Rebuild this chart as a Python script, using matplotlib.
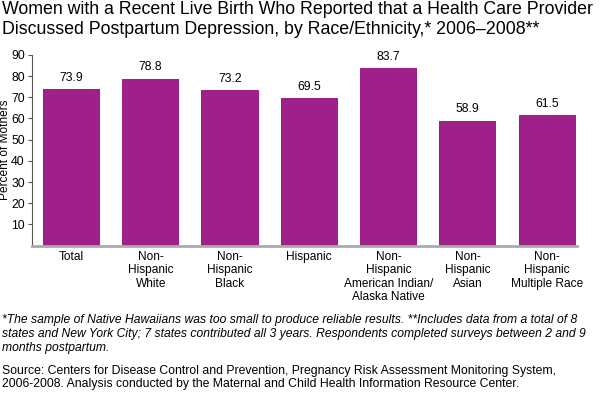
import matplotlib
matplotlib.use("Agg")
import matplotlib.pyplot as plt

plt.rcParams['font.family'] = ['Liberation Sans', 'DejaVu Sans']

categories = ["Total", "Non-\nHispanic\nWhite", "Non-\nHispanic\nBlack", "Hispanic",
              "Non-\nHispanic\nAmerican Indian/\nAlaska Native", "Non-\nHispanic\nAsian",
              "Non-\nHispanic\nMultiple Race"]
values = [73.9, 78.8, 73.2, 69.5, 83.7, 58.9, 61.5]
yticks = [10, 20, 30, 40, 50, 60, 70, 80, 90]

title = ("Women with a Recent Live Birth Who Reported that a Health Care Provider\n"
         "Discussed Postpartum Depression, by Race/Ethnicity,* 2006\u20132008**")
footnote = ("*The sample of Native Hawaiians was too small to produce reliable results. **Includes data from a total of 8\n"
            "states and New York City; 7 states contributed all 3 years. Respondents completed surveys between 2 and 9\n"
            "months postpartum.")
source = ("Source: Centers for Disease Control and Prevention, Pregnancy Risk Assessment Monitoring System,\n"
          "2006-2008. Analysis conducted by the Maternal and Child Health Information Resource Center.")

fig = plt.figure(figsize=(6, 3.99), dpi=100)
ax = fig.add_axes([0.053, 0.3845, 0.909, 0.478])

x = range(len(values))
ax.bar(x, values, width=0.72, color="#A0208A")
for i, v in enumerate(values):
    ax.text(i, v + 2.5, f"{v:.1f}", ha="center", va="bottom", fontsize=8.8)

ax.set_xlim(-0.5, 6.38)
ax.set_ylim(0, 90)
ax.set_yticks(yticks)
ax.set_xticks(list(x))
ax.set_xticklabels(categories, fontsize=8.6, linespacing=1.15)
ax.tick_params(axis="x", length=0, pad=4)
ax.tick_params(axis="y", labelsize=8.8, length=3, color="#555555", pad=2)
ax.set_ylabel("Percent of Mothers", fontsize=8.6)
ax.yaxis.set_label_coords(-0.039, 0.5)

for s in ["top", "right"]:
    ax.spines[s].set_visible(False)
ax.spines["left"].set_color("#555555")
ax.spines["left"].set_linewidth(0.8)
ax.spines["bottom"].set_color("#AAAAAA")
ax.spines["bottom"].set_linewidth(2)

fig.text(0.004, 0.998, title, ha="left", va="top", fontsize=12.8, linespacing=1.22)
fig.text(0.004, 0.212, footnote, ha="left", va="top", fontsize=8.7, style="italic", linespacing=1.19)
fig.text(0.004, 0.086, source, ha="left", va="top", fontsize=8.8, linespacing=1.19)

fig.savefig("out.png", dpi=100)
